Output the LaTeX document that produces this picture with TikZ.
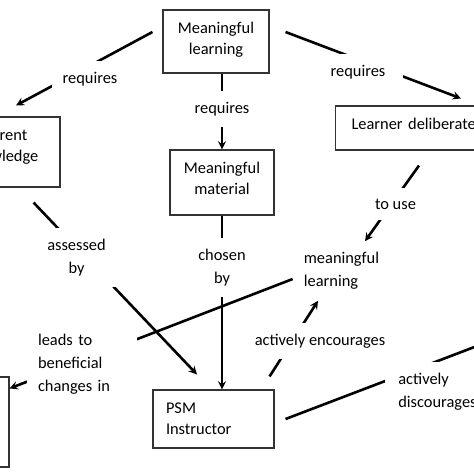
\documentclass[tikz,border=0pt]{standalone}
\usepackage{fontspec}
\setmainfont{Carlito}
\usepackage{tikz}
\usetikzlibrary{arrows, positioning}
\tikzstyle{concept} = [rectangle, draw=black!80, line width=1.1pt, fill=white, align=center, inner sep=0pt, text height=23pt, font=\fontsize{16.4}{21}\selectfont]
\tikzstyle{linkword} = [fill=white, inner xsep=11pt, inner ysep=11pt, align=center, font=\fontsize{16.4}{23}\selectfont]
\tikzstyle{arrow} = [line width=2.6pt,->,>=stealth]
\tikzstyle{link} = [line width=2.6pt]

\begin{document}
\begin{tikzpicture}[x=1pt, y=1pt]
\useasboundingbox (0,0) rectangle (474,-474);

% concepts (text hangs from the top edge)
\node (ml) [concept, text width=106pt, text depth=40pt] at (216,-41.5) {Meaningful\\learning};
\node (ck) [concept, text width=116pt, text depth=47pt] at (2,-152) {Current\\knowledge};
\node (mm) [concept, text width=104pt, text depth=42pt] at (222,-182.5) {Meaningful\\material};
\node (ld) [concept, anchor=west, text width=170pt, inner xsep=16pt, align=left, text depth=21pt] at (335,-128) {Learner deliberate};
\node (psm) [concept, text width=95pt, inner xsep=13pt, align=left, text depth=35pt] at (213.5,-419) {PSM\\Instructor};
\node (bl) [concept, text width=109pt, text depth=67pt] at (-45.5,-422) {};
\node (mlabel) [linkword, align=left] at (341.5,-271) {meaningful\\learning};
\coordinate (offr) at (540,-322);

% slanted links, the words sit on top of them
\draw [arrow] ([xshift=-10pt,yshift=9.5pt]ml.west) -- ([xshift=14pt,yshift=11pt]ck.north);
\draw [arrow] ([xshift=16pt,yshift=9.5pt]ml.east) -- ([xshift=126pt,yshift=7pt]ld.north west);
\draw [arrow] ([xshift=84pt,yshift=-15pt]ld.south west) -- ([xshift=23.5pt]mlabel.north);
\draw [arrow] ([xshift=-5pt,yshift=13pt]psm.north east) -- ([xshift=-23.5pt]mlabel.south);
\draw [arrow] ([yshift=-8pt]mlabel.west) -- ([yshift=-12pt]bl.north east);
\draw [arrow] ([xshift=-27pt,yshift=-15pt]ck.south east) -- ([xshift=-16.5pt,yshift=15pt]psm.north);
\draw [arrow] ([xshift=11pt]psm.east) -- (offr);

% linking words
\node (req1) [linkword] at (90,-79) {requires};
\node (req2) [linkword] at (222,-109) {requires};
\node (req3) [linkword, inner xsep=18pt] at (358,-72) {requires};
\node (touse) [linkword] at (395.5,-204) {to use};
\node (assess) [linkword] at (76.5,-257.5) {assessed\\by};
\node (chosen) [linkword, fill=none] at (222,-267.5) {chosen\\by};
\node (encour) [linkword] at (320,-341) {actively encourages};
\node (leads) [linkword, text width=88pt, align=left] at (82,-364.5) {leads to\\beneficial\\changes in};
\node (discour) [linkword, inner xsep=13pt, align=left] at (437.5,-391.5) {actively\\discourages};

% straight down the middle
\draw [link] (ml.south -| req2) -- (req2);
\draw [arrow] (req2) -- (mm);
\draw [link] (mm) -- (chosen);
\draw [arrow] (chosen) -- (chosen |- psm.north);

\end{tikzpicture}
\end{document}
